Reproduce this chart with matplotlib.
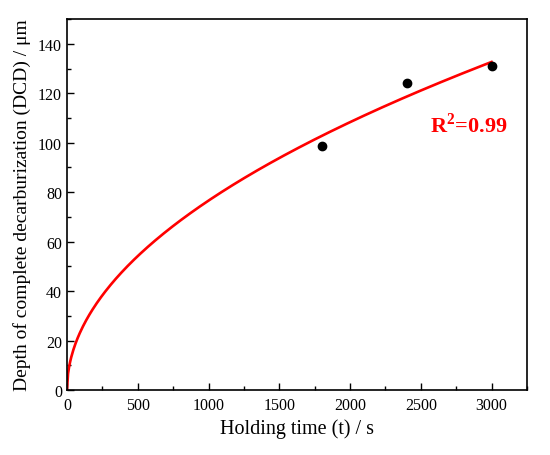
import numpy as np
import matplotlib
matplotlib.use("Agg")
import matplotlib.pyplot as plt
from matplotlib.ticker import MultipleLocator

plt.rcParams['font.family'] = ['Liberation Serif', 'DejaVu Serif']
plt.rcParams['mathtext.fontset'] = 'custom'
plt.rcParams['mathtext.rm'] = 'Liberation Serif'
plt.rcParams['mathtext.bf'] = 'Liberation Serif:bold'

time_s = [1800, 2400, 3000]
dcd_um = [98.7, 124.0, 131.0]
r2_label = "R$^\\mathbf{2}$=0.99"

t = np.array(time_s, float)
y = np.array(dcd_um, float)
k = np.sum(y * np.sqrt(t)) / np.sum(t)
tf = np.linspace(0, 3000, 400)
yf = k * np.sqrt(tf)

fig = plt.figure(figsize=(5.5, 4.56), dpi=100)
ax = fig.add_axes([0.1218, 0.1425, 0.8362, 0.8135])
ax.plot(tf, yf, color='#ff0000', lw=1.9, zorder=2)
ax.plot(t, y, 'o', color='black', ms=6, zorder=3)

ax.set_xlim(0, 3250)
ax.set_ylim(0, 150)
ax.xaxis.set_major_locator(MultipleLocator(500))
ax.xaxis.set_minor_locator(MultipleLocator(250))
ax.yaxis.set_major_locator(MultipleLocator(20))
ax.yaxis.set_minor_locator(MultipleLocator(10))
ax.tick_params(which='both', direction='in', labelsize=11.5, top=False, right=False)
ax.tick_params(which='major', length=5, width=1)
ax.tick_params(which='minor', length=3, width=1)
ax.tick_params(axis='x', pad=5)
for s in ax.spines.values():
    s.set_linewidth(1.2)

ax.set_xlabel("Holding time (t) / s", fontsize=14.5, labelpad=4)
ax.set_ylabel("Depth of complete decarburization (DCD) / μm", fontsize=14, labelpad=5)
ax.text(3112, 107.5, r2_label, color='#ff0000', fontsize=16, fontweight='bold',
        ha='right', va='center')

fig.savefig("out.png", dpi=100)
